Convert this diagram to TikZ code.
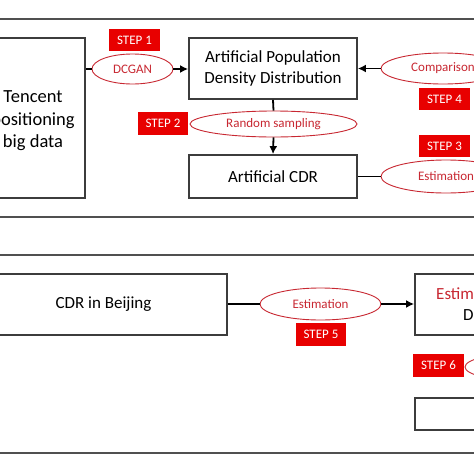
\documentclass[tikz,border=0pt]{standalone}
\usepackage{fontspec}
\setmainfont{Carlito}
\usetikzlibrary{arrows.meta,shapes.geometric}
\definecolor{stepred}{RGB}{232,0,0}
\definecolor{ellred}{RGB}{200,40,50}
\definecolor{frame}{RGB}{80,80,80}
\definecolor{boxline}{RGB}{60,60,60}
\tikzset{
  frameline/.style={draw=frame,line width=1.6pt},
  mainbox/.style={draw=boxline,line width=1.8pt,fill=white,align=center,inner sep=0pt,font=\fontsize{17}{21}\selectfont},
  ell/.style={ellipse,draw=ellred,line width=0.9pt,fill=white,inner sep=0pt,text=ellred,font=\fontsize{13}{15}\selectfont},
  stepbox/.style={fill=stepred,text=white,inner sep=0pt,font=\fontsize{13}{15}\selectfont},
  conn/.style={draw=black,line width=1.8pt},
  arr/.style={conn,-{Latex[length=8pt,width=8pt]}}
}
\begin{document}
\begin{tikzpicture}[x=1pt,y=-1pt]
\useasboundingbox (0,0) rectangle (474,474);
\clip (0,0) rectangle (474,474);
\fill[white] (0,0) rectangle (474,474);
% frames
\draw[frameline] (-10,19) rectangle (490,217);
\draw[frameline] (-10,255) rectangle (490,453);
% top panel
\node[mainbox,minimum width=104pt,minimum height=160pt] (tencent) at (33,118) {};
\node[align=center,inner sep=0pt,font=\fontsize{18.5}{22.5}\selectfont] (tencenttext) at (33,121) {Tencent\\positioning\\big data};
\node[mainbox,minimum width=168pt,minimum height=61pt] (artpop) at (273,68.5) {Artificial Population\\Density Distribution};
\node[mainbox,minimum width=168pt,minimum height=43pt] (artcdr) at (273,176.5) {Artificial CDR};
\node[ell,minimum width=81pt,minimum height=30pt] (dcgan) at (132.5,69) {DCGAN};
\node[ell,minimum width=167pt,minimum height=26pt] (rs) at (273.5,124) {Random sampling};
\node[ell,minimum width=124pt,minimum height=31pt] (comp) at (443,68.5) {Comparison};
\node[ell,minimum width=130pt,minimum height=33pt] (est1) at (446,176.5) {Estimation};
\node[stepbox,minimum width=51pt,minimum height=22pt] (s1) at (134.5,40) {STEP 1};
\node[stepbox,minimum width=50pt,minimum height=23pt] (s2) at (163,123.5) {STEP 2};
\node[stepbox,minimum width=51pt,minimum height=22pt] (s4) at (444.5,99) {STEP 4};
\node[stepbox,minimum width=51pt,minimum height=22pt] (s3) at (444.5,146) {STEP 3};
\draw[conn] (tencent.east |- dcgan.west) -- (dcgan.west);
\draw[arr] (dcgan.east) -- (artpop.west |- dcgan.east);
\draw[conn] (artpop.south) -- (rs.north);
\draw[arr] (rs.south) -- (artcdr.north);
\draw[arr] (comp.west) -- (artpop.east |- comp.west);
\draw[conn] (artcdr.east) -- (est1.west);
% bottom panel
\node[mainbox,minimum width=247pt,minimum height=61pt] (cdrbj) at (103.5,304.5) {CDR in Beijing};
\node[mainbox,minimum width=168pt,minimum height=61pt] (estpop) at (499,304.5) {};
\node[anchor=west,inner sep=0pt,text=ellred,font=\fontsize{17}{21}\selectfont] (estt) at (436,295) {Estimated Population};
\node[anchor=west,inner sep=0pt,font=\fontsize{17}{21}\selectfont] (estd) at (463,316) {Density Distribution};
\node[ell,minimum width=121pt,minimum height=32pt] (est2) at (320.5,304) {Estimation};
\node[stepbox,minimum width=50pt,minimum height=23pt] (s5) at (321,334.5) {STEP 5};
\node[stepbox,minimum width=51pt,minimum height=23pt] (s6) at (438.5,365.5) {STEP 6};
\node[ell,minimum width=120pt,minimum height=28pt] (e6) at (525,367) {};
\node[mainbox,minimum width=168pt,minimum height=32pt] (bot) at (499,414) {};
\draw[conn] (cdrbj.east |- est2.west) -- (est2.west);
\draw[arr] (est2.east) -- (estpop.west |- est2.east);
\end{tikzpicture}
\end{document}
